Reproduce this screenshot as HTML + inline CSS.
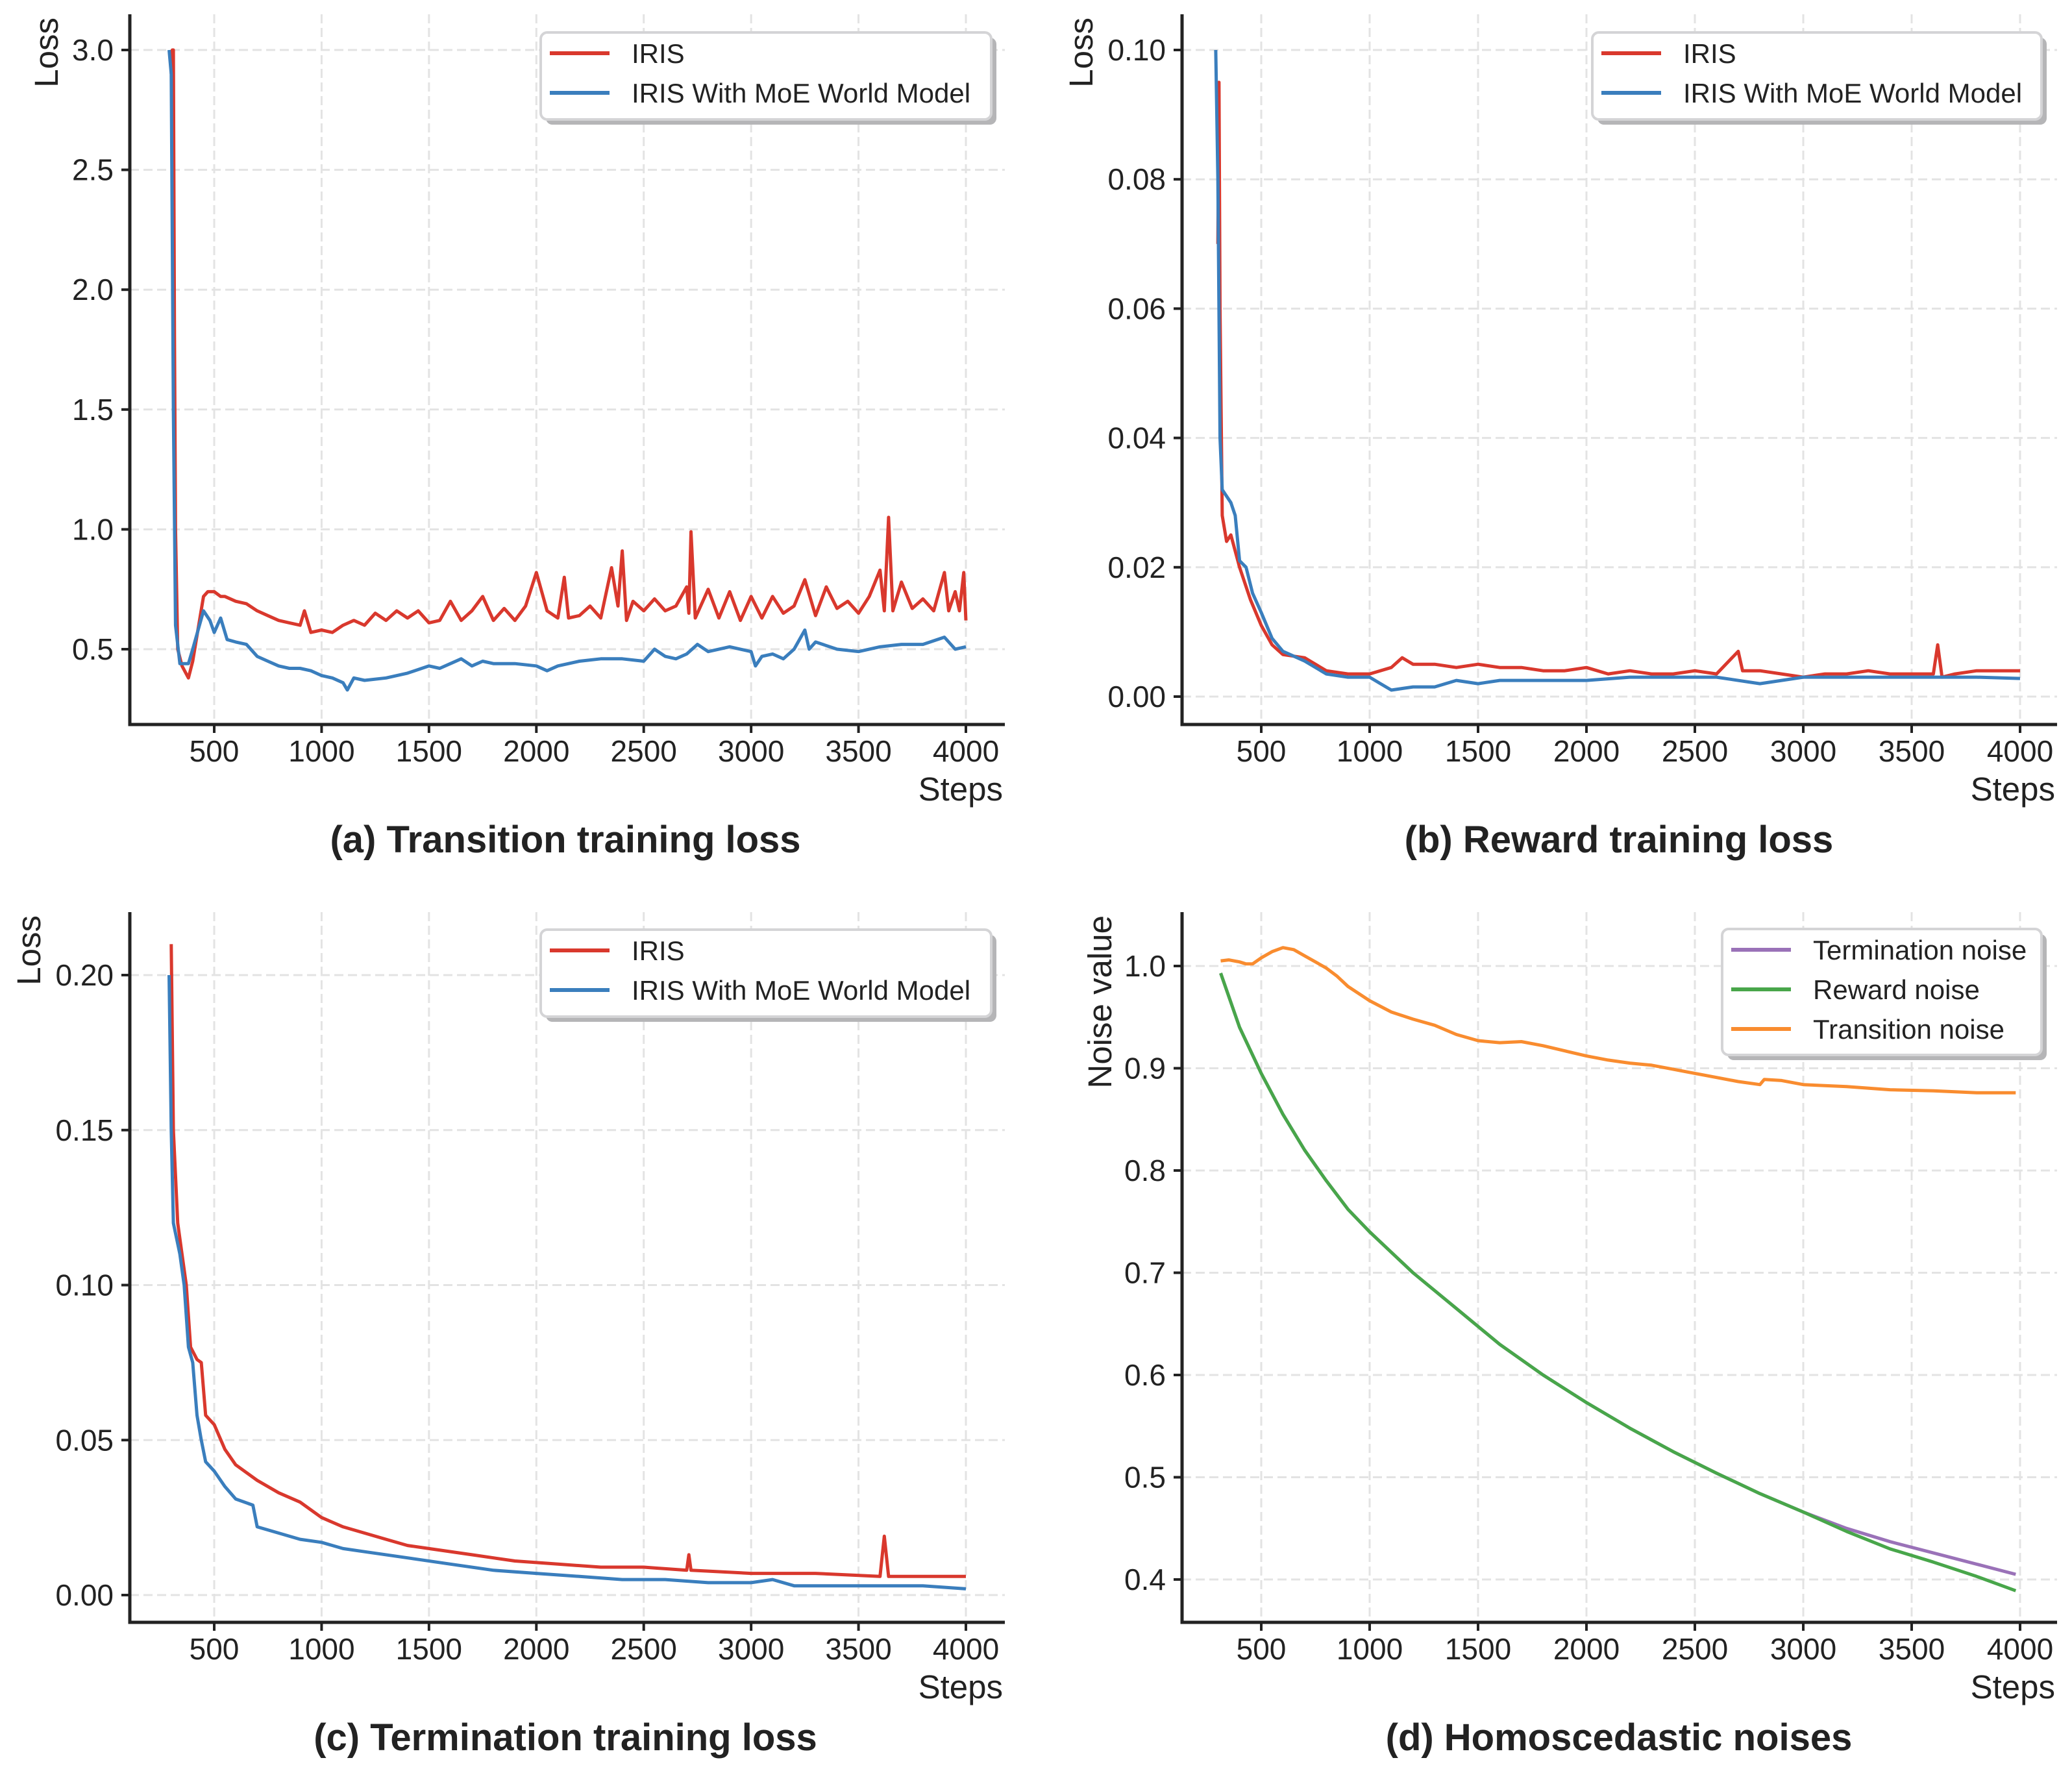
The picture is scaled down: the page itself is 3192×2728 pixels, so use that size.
<!DOCTYPE html>
<html><head><meta charset="utf-8"><style>
html,body{margin:0;padding:0;background:#fff;}
svg{display:block;font-family:"Liberation Sans",Arial,sans-serif;}
</style></head><body>
<svg id="fig" width="3192" height="2728" viewBox="0 0 3192 2728" xmlns="http://www.w3.org/2000/svg"></svg>
<script>
// ---- Panel (a) Transition training loss ----
const aRedSteps=[300,305,310,315,320,330,350,380,400,450,470,500,530,550,600,650,700,750,800,850,900,920,950,1000,1050,1100,1150,1200,1250,1300,1350,1400,1450,1500,1550,1600,1650,1700,1750,1800,1850,1900,1950,2000,2050,2100,2130,2150,2200,2250,2300,2350,2380,2400,2420,2450,2500,2550,2600,2650,2700,2710,2720,2740,2800,2850,2900,2950,3000,3050,3100,3150,3200,3250,3300,3350,3400,3450,3500,3550,3600,3620,3640,3660,3700,3750,3800,3850,3900,3920,3950,3970,3990,4000];
const aRedVals=[2.9,3.0,3.0,1.8,1.0,0.5,0.43,0.38,0.45,0.72,0.74,0.74,0.72,0.72,0.70,0.69,0.66,0.64,0.62,0.61,0.60,0.66,0.57,0.58,0.57,0.60,0.62,0.60,0.65,0.62,0.66,0.63,0.66,0.61,0.62,0.70,0.62,0.66,0.72,0.62,0.67,0.62,0.68,0.82,0.66,0.63,0.80,0.63,0.64,0.68,0.63,0.84,0.68,0.91,0.62,0.70,0.66,0.71,0.66,0.68,0.76,0.65,0.99,0.63,0.75,0.63,0.74,0.62,0.72,0.63,0.72,0.65,0.68,0.79,0.64,0.76,0.67,0.70,0.65,0.72,0.83,0.66,1.05,0.66,0.78,0.67,0.71,0.66,0.82,0.66,0.74,0.66,0.82,0.62];
const aBlueSteps=[290,300,310,320,340,380,400,450,480,500,530,560,600,650,700,750,800,850,900,950,1000,1050,1100,1120,1150,1200,1300,1400,1500,1550,1600,1650,1700,1750,1800,1900,2000,2050,2100,2200,2300,2400,2500,2550,2600,2650,2700,2750,2800,2900,3000,3020,3050,3100,3150,3200,3250,3270,3300,3400,3500,3600,3700,3800,3900,3950,4000];
const aBlueVals=[3.0,2.9,1.5,0.6,0.44,0.44,0.50,0.66,0.62,0.57,0.63,0.54,0.53,0.52,0.47,0.45,0.43,0.42,0.42,0.41,0.39,0.38,0.36,0.33,0.38,0.37,0.38,0.40,0.43,0.42,0.44,0.46,0.43,0.45,0.44,0.44,0.43,0.41,0.43,0.45,0.46,0.46,0.45,0.50,0.47,0.46,0.48,0.52,0.49,0.51,0.49,0.43,0.47,0.48,0.46,0.50,0.58,0.50,0.53,0.50,0.49,0.51,0.52,0.52,0.55,0.50,0.51];
const aTicksY=[0.5,1.0,1.5,2.0,2.5,3.0];
const aTickLabelsY=["0.5","1.0","1.5","2.0","2.5","3.0"];
// ---- Panel (b) Reward training loss ----
const bRedSteps=[300,305,310,320,340,360,400,450,500,550,600,700,800,900,1000,1100,1150,1200,1300,1400,1500,1600,1700,1800,1900,2000,2100,2200,2300,2400,2500,2600,2700,2720,2800,2900,3000,3100,3200,3300,3400,3500,3600,3620,3640,3700,3800,3900,4000];
const bRedVals=[0.07,0.095,0.06,0.028,0.024,0.025,0.02,0.015,0.011,0.008,0.0065,0.006,0.004,0.0035,0.0035,0.0045,0.006,0.005,0.005,0.0045,0.005,0.0045,0.0045,0.004,0.004,0.0045,0.0035,0.004,0.0035,0.0035,0.004,0.0035,0.007,0.004,0.004,0.0035,0.003,0.0035,0.0035,0.004,0.0035,0.0035,0.0035,0.008,0.003,0.0035,0.004,0.004,0.004];
const bBlueSteps=[290,300,310,320,360,380,400,430,460,500,550,600,700,800,900,1000,1050,1100,1200,1300,1400,1500,1600,1800,2000,2200,2400,2600,2800,3000,3200,3400,3600,3800,4000];
const bBlueVals=[0.1,0.08,0.04,0.032,0.03,0.028,0.021,0.02,0.016,0.013,0.009,0.007,0.0055,0.0035,0.003,0.003,0.002,0.001,0.0015,0.0015,0.0025,0.002,0.0025,0.0025,0.0025,0.003,0.003,0.003,0.002,0.003,0.003,0.003,0.003,0.003,0.0028];
const bTicksY=[0,0.02,0.04,0.06,0.08,0.10];
const bTickLabelsY=["0.00","0.02","0.04","0.06","0.08","0.10"];
// ---- Panel (c) Termination training loss ----
const cRedSteps=[300,310,330,350,370,390,420,440,460,500,550,600,700,800,900,1000,1100,1200,1300,1400,1500,1700,1900,2100,2300,2500,2700,2710,2720,3000,3300,3600,3620,3640,3800,4000];
const cRedVals=[0.21,0.15,0.12,0.11,0.10,0.08,0.076,0.075,0.058,0.055,0.047,0.042,0.037,0.033,0.030,0.025,0.022,0.020,0.018,0.016,0.015,0.013,0.011,0.010,0.009,0.009,0.008,0.013,0.008,0.007,0.007,0.006,0.019,0.006,0.006,0.006];
const cBlueSteps=[290,300,310,340,360,380,400,420,440,460,500,550,600,680,700,800,900,1000,1100,1200,1400,1600,1800,2000,2200,2400,2600,2800,3000,3100,3200,3500,3800,4000];
const cBlueVals=[0.2,0.15,0.12,0.11,0.10,0.08,0.075,0.058,0.05,0.043,0.040,0.035,0.031,0.029,0.022,0.020,0.018,0.017,0.015,0.014,0.012,0.010,0.008,0.007,0.006,0.005,0.005,0.004,0.004,0.005,0.003,0.003,0.003,0.002];
const cTicksY=[0,0.05,0.10,0.15,0.20];
const cTickLabelsY=["0.00","0.05","0.10","0.15","0.20"];
// ---- Panel (d) Homoscedastic noises ----
const dOrangeSteps=[313,350,400,430,460,500,550,600,650,700,750,800,850,900,1000,1100,1200,1300,1400,1500,1600,1700,1800,1900,2000,2100,2200,2300,2400,2500,2600,2700,2800,2820,2900,3000,3200,3400,3600,3800,3980];
const dOrangeVals=[1.005,1.006,1.004,1.002,1.002,1.008,1.014,1.018,1.016,1.01,1.004,0.998,0.99,0.98,0.966,0.955,0.948,0.942,0.933,0.927,0.925,0.926,0.922,0.917,0.912,0.908,0.905,0.903,0.899,0.895,0.891,0.887,0.884,0.889,0.888,0.884,0.882,0.879,0.878,0.876,0.876];
const dNoiseSteps=[313,400,500,600,700,800,900,1000,1200,1400,1600,1800,2000,2200,2400,2600,2800,3000,3200,3400,3600,3800,3980];
const dGreenVals=[0.993,0.94,0.895,0.855,0.82,0.79,0.762,0.74,0.70,0.665,0.63,0.60,0.573,0.548,0.525,0.504,0.484,0.466,0.447,0.430,0.417,0.403,0.389];
const dPurpleVals=[0.993,0.94,0.895,0.855,0.82,0.79,0.762,0.74,0.70,0.665,0.63,0.60,0.573,0.548,0.525,0.504,0.484,0.466,0.450,0.437,0.426,0.415,0.405];
const dTicksY=[0.4,0.5,0.6,0.7,0.8,0.9,1.0];
const dTickLabelsY=["0.4","0.5","0.6","0.7","0.8","0.9","1.0"];
const xTicks=[500,1000,1500,2000,2500,3000,3500,4000];
const xTickLabels=["500","1000","1500","2000","2500","3000","3500","4000"];

const NS="http://www.w3.org/2000/svg";
const svg=document.getElementById('fig');
function mk(tag,attrs,parent){const e=document.createElementNS(NS,tag);for(const k in attrs)e.setAttribute(k,attrs[k]);(parent||svg).appendChild(e);return e;}

function panel(p){
  const g=mk('g',{});
  
  
  const sx=v=>p.x0px+(v-p.x0v)*(p.x1px-p.x0px)/(p.x1v-p.x0v);
  const sy=v=>p.y0px+(v-p.y0v)*(p.y1px-p.y0px)/(p.y1v-p.y0v);
  xTicks.forEach(t=>{const l=mk('line',{x1:sx(t),x2:sx(t),y1:p.T,y2:p.B,stroke:'#e3e3e3','stroke-width':3,'stroke-dasharray':'14 7'},g);
    });
  p.yt.forEach(t=>{const l=mk('line',{x1:p.L,x2:p.R,y1:sy(t),y2:sy(t),stroke:'#e3e3e3','stroke-width':3,'stroke-dasharray':'14 7'},g);
    });
  p.series.forEach(s=>{
    const d=s.xs.map((x,i)=>(i?'L':'M')+sx(x).toFixed(1)+','+sy(s.ys[i]).toFixed(1)).join('');
    const path=mk('path',{d:d,fill:'none',stroke:s.color,'stroke-width':5,'stroke-linejoin':'round'},g);
    
    
  });
  const ax=mk('path',{d:`M${p.L},${p.T}V${p.B}H${p.R}`,fill:'none',stroke:'#222','stroke-width':5},g);
  
  xTicks.forEach((t,i)=>{mk('line',{x1:sx(t),x2:sx(t),y1:p.B,y2:p.B+13,stroke:'#222','stroke-width':4},g);
    const tx=mk('text',{x:sx(t),y:p.B+57,'text-anchor':'middle','font-size':46,fill:'#222'},g);tx.textContent=xTickLabels[i];
    });
  p.yt.forEach((t,i)=>{mk('line',{x1:p.L-13,x2:p.L,y1:sy(t),y2:sy(t),stroke:'#222','stroke-width':4},g);
    const tx=mk('text',{x:p.L-25,y:sy(t)+16,'text-anchor':'end','font-size':46,fill:'#222'},g);tx.textContent=p.ytl[i];
    });
  const xl=mk('text',{x:p.R-3,y:p.B+117,'text-anchor':'end','font-size':51,fill:'#222'},g);xl.textContent='Steps';
  
  const yl=mk('text',{x:0,y:0,'text-anchor':'end','font-size':51,fill:'#222',transform:`translate(${p.ylx},${p.T+5}) rotate(-90)`},g);yl.textContent=p.ylabel;
  
  const ti=mk('text',{x:p.tx,y:p.B+197,'text-anchor':'middle','font-size':58,'font-weight':'bold',fill:'#222'},g);ti.textContent=p.title;
  
  const lg=mk('g',{},g);
  
  mk('rect',{x:p.lx+8,y:p.ly+8,width:p.lw,height:p.lh,rx:10,fill:'#b5b5b7'},lg);
  mk('rect',{x:p.lx,y:p.ly,width:p.lw,height:p.lh,rx:10,fill:'#fff',stroke:'#d4d4d6','stroke-width':4},lg);
  p.series.forEach((s,i)=>{const yy=p.ly+32+i*61;
    mk('line',{x1:p.lx+14,x2:p.lx+106,y1:yy,y2:yy,stroke:s.color,'stroke-width':6},lg);
    const t=mk('text',{x:p.lx+140,y:yy+15,'font-size':42,fill:'#222'},lg);t.textContent=s.label;
    });
}
const RED='#d9382d',BLUE='#3a7ebd';
const leftX={x0v:500,x1v:4000,x0px:330,x1px:1488};
const rightX={x0v:500,x1v:4000,x0px:1943,x1px:3112};
panel(Object.assign({id:'panel-a-transition',L:200,R:1548,T:22,B:1116,y0v:0.5,y1v:3.0,y0px:1000,y1px:77,yt:aTicksY,ytl:aTickLabelsY,ylabel:'Loss',ylx:89,title:'(a) Transition training loss',tx:871,
  lx:833,ly:50,lw:694,lh:134,
  series:[{name:'iris-line',label:'IRIS',color:RED,xs:aRedSteps,ys:aRedVals},{name:'iris-moe-line',label:'IRIS With MoE World Model',color:BLUE,xs:aBlueSteps,ys:aBlueVals}]},leftX));
panel(Object.assign({id:'panel-b-reward',L:1821,R:3169,T:22,B:1116,y0v:0,y1v:0.10,y0px:1073,y1px:77,yt:bTicksY,ytl:bTickLabelsY,ylabel:'Loss',ylx:1683,title:'(b) Reward training loss',tx:2494,
  lx:2453,ly:50,lw:692,lh:134,
  series:[{name:'iris-line',label:'IRIS',color:RED,xs:bRedSteps,ys:bRedVals},{name:'iris-moe-line',label:'IRIS With MoE World Model',color:BLUE,xs:bBlueSteps,ys:bBlueVals}]},rightX));
panel(Object.assign({id:'panel-c-termination',L:200,R:1548,T:1405,B:2499,y0v:0,y1v:0.20,y0px:2457,y1px:1502,yt:cTicksY,ytl:cTickLabelsY,ylabel:'Loss',ylx:62,title:'(c) Termination training loss',tx:871,
  lx:833,ly:1432,lw:694,lh:134,
  series:[{name:'iris-line',label:'IRIS',color:RED,xs:cRedSteps,ys:cRedVals},{name:'iris-moe-line',label:'IRIS With MoE World Model',color:BLUE,xs:cBlueSteps,ys:cBlueVals}]},leftX));
panel(Object.assign({id:'panel-d-noises',L:1821,R:3169,T:1405,B:2499,y0v:0.4,y1v:1.0,y0px:2433,y1px:1488,yt:dTicksY,ytl:dTickLabelsY,ylabel:'Noise value',ylx:1712,title:'(d) Homoscedastic noises',tx:2494,
  lx:2653,ly:1431,lw:492,lh:194,
  series:[{name:'termination-noise-line',label:'Termination noise',color:'#9a72b8',xs:dNoiseSteps,ys:dPurpleVals},{name:'reward-noise-line',label:'Reward noise',color:'#48a64a',xs:dNoiseSteps,ys:dGreenVals},{name:'transition-noise-line',label:'Transition noise',color:'#f98c2f',xs:dOrangeSteps,ys:dOrangeVals}]},rightX));
</script>
</body></html>
